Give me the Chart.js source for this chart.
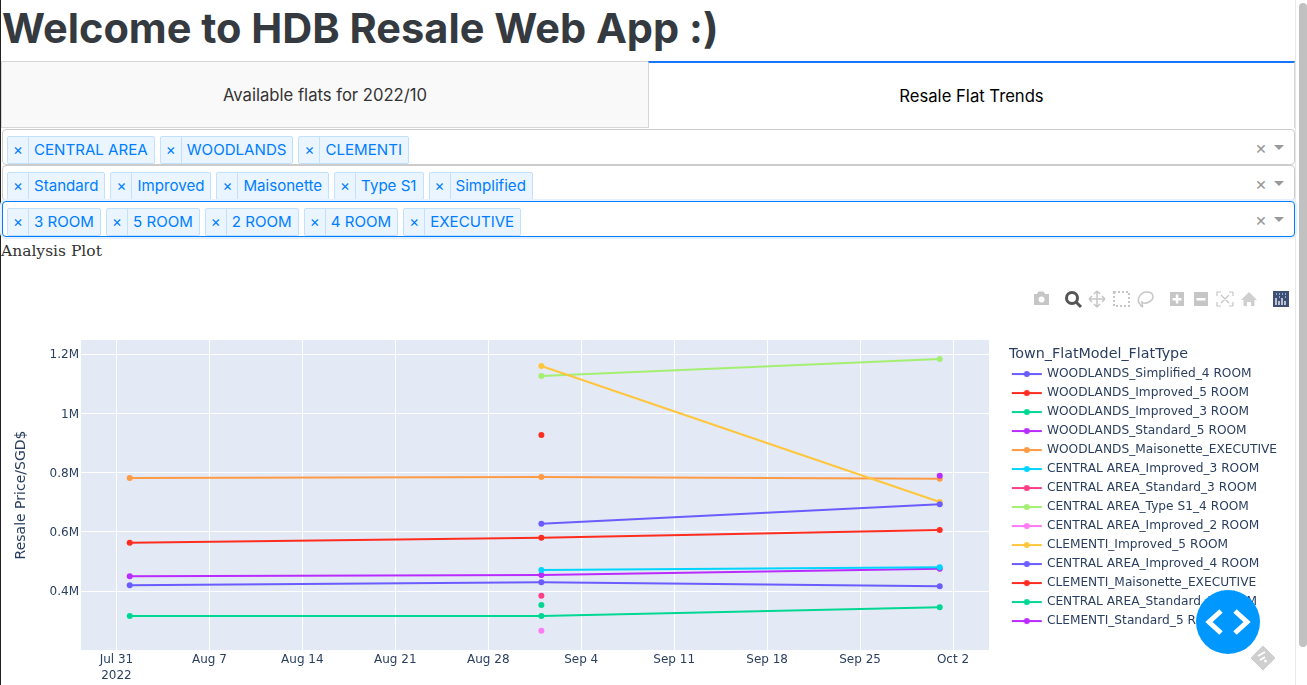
<!DOCTYPE html>
<html>
<head>
<meta charset="utf-8">
<title>HDB Resale Web App</title>
<script src="https://cdn.jsdelivr.net/npm/chart.js@4"></script>
<style>
html,body{margin:0;padding:0;width:1307px;height:685px;overflow:hidden;background:#fff;font-family:Inter,"Noto Sans",sans-serif}
.abs{position:absolute}
#edge{left:0;top:0;width:1px;height:685px;background:#222}
h1{position:absolute;left:2px;top:3px;margin:0;font:700 41.5px/50px Inter,sans-serif;color:#343a40;white-space:nowrap}
.tab{position:absolute;top:61px;height:67px;box-sizing:border-box;display:flex;align-items:center;justify-content:center;font-size:16.65px}
#tab1{left:1px;width:648px;background:#f9f9f9;border:1px solid #d6d6d6;color:#333}
#tab2{left:648px;width:647px;background:#fff;border-top:2px solid #1975fa;border-right:1px solid #d6d6d6;border-left:1px solid #d6d6d6;color:#000}
.sel{position:absolute;left:2px;width:1293px;height:36px;box-sizing:border-box;border:1px solid #ccc;border-radius:4px;background:#fff;display:flex;align-items:center;padding-left:4px;padding-top:6px}
.sel.focus{border-color:#007eff;box-shadow:0 0 0 2px #e6f1ff;z-index:2}
.tag{display:flex;height:28px;box-sizing:border-box;border:1px solid #c2e0ff;border-radius:2px;background:#ebf5ff;color:#007eff;font-size:15.1px;line-height:26px;margin-right:5px;white-space:nowrap}
.tag i{font-style:normal;width:20px;text-align:center;border-right:1px solid #c2e0ff}
.tag b{font-weight:400;padding:0 6px 0 5px}
.clr{position:absolute;right:27px;top:7px;color:#999;font-size:18px;line-height:22px}
.arr{position:absolute;right:10px;top:15px;width:0;height:0;border:5px solid transparent;border-top-color:#999;border-bottom:0}
#lab{left:1px;top:242px;font:15.5px/19px "DejaVu Serif",serif;color:#333;white-space:nowrap}
#wrap{left:0;top:280px;width:1295px;height:405px}
#sb{left:1295px;top:0;width:12px;height:685px;background:#fff;border-left:1px solid #e8e8e8;box-sizing:border-box}
#th{left:1299px;top:3px;width:8px;height:644px;border-radius:4px;background:#c1c1c1}
#fab{left:1196px;top:590px;width:64px;height:64px;border-radius:50%;background:#0098ff;z-index:5}
#fb{left:1250px;top:645px;z-index:5}
#mb{left:1025px;top:285px}
</style>
</head>
<body>
<div id="edge" class="abs"></div>
<h1>Welcome to HDB Resale Web App :)</h1>
<div id="tab1" class="tab">Available flats for 2022/10</div>
<div id="tab2" class="tab">Resale Flat Trends</div>
<div class="sel" style="top:129px" id="s1"></div>
<div class="sel" style="top:165px" id="s2"></div>
<div class="sel focus" style="top:201px" id="s3"></div>
<div id="lab" class="abs">Analysis Plot</div>

<svg id="mb" class="abs" width="270" height="30" viewBox="0 0 270 30" style="z-index:3">
  <g fill="#c6c6c6">
    <path d="M9 9h3l1.5-2.500h5L20 9h4v11H9z"/><circle cx="16.500" cy="14.500" r="3" fill="#fff"/>
    <rect x="145" y="7" width="14" height="14"/><rect x="169" y="7" width="14" height="14"/>
    <path d="M216 15l8-8 8 8h-2.500v6h-3.500v-4h-4v4h-3.500v-6z" fill="#cfcfcf"/>
  </g>
  <rect x="147.500" y="13" width="9" height="2.500" fill="#fff"/><rect x="150.800" y="9.500" width="2.500" height="9" fill="#fff"/>
  <rect x="171.500" y="13" width="9" height="2.500" fill="#fff"/>
  <circle cx="47" cy="13" r="5.500" fill="none" stroke="#555" stroke-width="3"/>
  <path d="M51 17l5 5" stroke="#555" stroke-width="3"/>
  <path d="M72 6v16M64 14h16M72 6l-3 3M72 6l3 3M72 22l-3-3M72 22l3-3M64 14l3-3M64 14l3 3M80 14l-3-3M80 14l-3 3" stroke="#c6c6c6" stroke-width="1.500" fill="none"/>
  <rect x="89" y="7" width="15" height="14" fill="none" stroke="#c6c6c6" stroke-width="2" stroke-dasharray="2 2"/>
  <path d="M115 19c-4-4 0-12 7-12s8 7 2 10c-3 1.500-6 1-7 0 0 2 0 4 1 5-2-1-3-2-3-3z" fill="none" stroke="#c6c6c6" stroke-width="1.500"/>
  <path d="M192 11V7h4M208 7h-4M208 7v4M192 17v4h4M208 21h-4M208 21v-4M196 10l8 8M204 10l-8 8" fill="none" stroke="#c6c6c6" stroke-width="1.200"/>
  <rect x="248" y="6" width="16" height="16" fill="#3f4f75"/>
  <path d="M251 13v7M254 16v4M257 13v7M260 16v4" stroke="#fff" stroke-width="1.300"/>
  <path d="M251 9h1M254 9h1M257 9h1M260 9h1M254 12h1M260 12h1" stroke="#9fd8e8" stroke-width="1.300"/>
</svg>

<div id="wrap" class="abs"><canvas id="chart" width="1295" height="405"></canvas></div>

<div id="sb" class="abs"></div><div id="th" class="abs"></div>
<div id="fab" class="abs">
  <svg width="64" height="64" viewBox="0 0 64 64"><path d="M25 21L13 32l12 11M39 21l12 11-12 11" fill="none" stroke="#fff" stroke-width="5"/></svg>
</div>
<svg id="fb" class="abs" width="26" height="26" viewBox="0 0 26 26"><path d="M13 1l12 12-12 12L1 13z" fill="#cfcfcf" stroke="#cfcfcf" stroke-width="1" stroke-linejoin="round"/><path d="M8 11l7-4M10 15l5-3" stroke="#fff" stroke-width="2"/><circle cx="15.500" cy="16" r="1.500" fill="#fff"/></svg>

<script>
// ---------- data ----------
const towns = ["CENTRAL AREA", "WOODLANDS", "CLEMENTI"];
const flatModels = ["Standard", "Improved", "Maisonette", "Type S1", "Simplified"];
const flatTypes = ["3 ROOM", "5 ROOM", "2 ROOM", "4 ROOM", "EXECUTIVE"];

const months = ["2022-08-01", "2022-09-01", "2022-10-01"];

const woodlandsSimplified4 = [419200, 429300, 415800];
const woodlandsImproved5 = [563400, 580300, 606200];
const woodlandsImproved3 = [315500, 315500, 344800];
const woodlandsStandard5 = [449600, 454100, 475500];
const woodlandsMaisonetteExec = [782000, 785400, 779700];
const centralImproved3 = [null, 471000, 480000];
const centralStandard3 = [null, 384200, null];
const centralTypeS14 = [null, 1126800, 1184200];
const centralImproved2 = [null, 265900, null];
const clementiImproved5 = [null, 1160600, 700800];
const centralImproved4 = [null, 627600, 693000];
const clementiMaisonetteExec = [null, 927300, null];
const centralStandard2 = [null, 352700, null];
const clementiStandard5 = [null, null, 789900];

const seriesNames = [
  "WOODLANDS_Simplified_4 ROOM", "WOODLANDS_Improved_5 ROOM", "WOODLANDS_Improved_3 ROOM",
  "WOODLANDS_Standard_5 ROOM", "WOODLANDS_Maisonette_EXECUTIVE", "CENTRAL AREA_Improved_3 ROOM",
  "CENTRAL AREA_Standard_3 ROOM", "CENTRAL AREA_Type S1_4 ROOM", "CENTRAL AREA_Improved_2 ROOM",
  "CLEMENTI_Improved_5 ROOM", "CENTRAL AREA_Improved_4 ROOM", "CLEMENTI_Maisonette_EXECUTIVE",
  "CENTRAL AREA_Standard_2 ROOM", "CLEMENTI_Standard_5 ROOM"
];
const seriesValues = [
  woodlandsSimplified4, woodlandsImproved5, woodlandsImproved3, woodlandsStandard5,
  woodlandsMaisonetteExec, centralImproved3, centralStandard3, centralTypeS14, centralImproved2,
  clementiImproved5, centralImproved4, clementiMaisonetteExec, centralStandard2, clementiStandard5
];
const palette = ["#6a5cff", "#ff2d20", "#00d793", "#b92cff", "#ff9a45", "#00d4ff", "#ff3d85",
                 "#a4ef72", "#ff7af5", "#ffc63d"];

const xTickDates = ["2022-07-31", "2022-08-07", "2022-08-14", "2022-08-21", "2022-08-28",
                    "2022-09-04", "2022-09-11", "2022-09-18", "2022-09-25", "2022-10-02"];
const xTickLabels = [["Jul 31", "2022"], "Aug 7", "Aug 14", "Aug 21", "Aug 28",
                     "Sep 4", "Sep 11", "Sep 18", "Sep 25", "Oct 2"];
const yTickValues = [400000, 600000, 800000, 1000000, 1200000];
const yTickLabels = ["0.4M", "0.6M", "0.8M", "1M", "1.2M"];

// ---------- page furniture ----------
function fillSelect(id, items) {
  const el = document.getElementById(id);
  items.forEach(t => {
    const d = document.createElement("div");
    d.className = "tag";
    const i = document.createElement("i"); i.textContent = "×";
    const b = document.createElement("b"); b.textContent = t;
    d.append(i, b); el.append(d);
  });
  const c = document.createElement("span"); c.className = "clr"; c.textContent = "×";
  const a = document.createElement("span"); a.className = "arr";
  el.append(c, a);
}
fillSelect("s1", towns); fillSelect("s2", flatModels); fillSelect("s3", flatTypes);

// ---------- chart ----------
const chartFont = "'DejaVu Sans'";
const toDay = s => Date.parse(s + "T00:00:00Z") / 86400000;
const tickText = new Map(xTickDates.map((d, i) => [toDay(d), xTickLabels[i]]));
const yText = new Map(yTickValues.map((v, i) => [v, yTickLabels[i]]));
const inkColor = "#2a3f5f";
const plotBg = "#e3eaf5";

function legendSample(color) {
  const c = document.createElement("canvas");
  c.width = 37; c.height = 10;
  const g = c.getContext("2d");
  g.strokeStyle = color; g.lineWidth = 2;
  g.beginPath(); g.moveTo(2, 5); g.lineTo(32, 5); g.stroke();
  g.fillStyle = color;
  g.beginPath(); g.arc(17, 5, 3, 0, Math.PI * 2); g.fill();
  return c;
}

const datasets = seriesNames.map((name, i) => {
  const color = palette[i % palette.length];
  return {
    label: name,
    data: months.map((m, k) => ({ x: toDay(m), y: seriesValues[i][k] })),
    borderColor: color, backgroundColor: color,
    borderWidth: 2, pointRadius: 3, pointBorderWidth: 0, pointHoverRadius: 3,
    tension: 0, order: seriesNames.length - i
  };
});

const plotBackground = {
  id: "plotBackground",
  beforeDraw(chart) {
    const { ctx, chartArea: a } = chart;
    ctx.save(); ctx.fillStyle = plotBg;
    ctx.fillRect(a.left, a.top, a.width, a.height); ctx.restore();
  }
};
const legendPlacement = {
  id: "legendPlacement",
  beforeLayout(chart) {
    const l = chart.legend;
    if (l && !l.__fixed) {
      const fit = l.fit.bind(l);
      l.fit = () => { fit(); l.width = 306; };
      l.__fixed = true;
    }
  },
  afterLayout(chart) {
    const l = chart.legend;
    l.left += 20; l.right += 20;
  }
};

new Chart(document.getElementById("chart"), {
  type: "line",
  data: { datasets },
  plugins: [plotBackground, legendPlacement],
  options: {
    responsive: false, animation: false, parsing: true,
    layout: { padding: { top: 60, right: 0, bottom: 0, left: 0 } },
    interaction: { mode: "nearest", intersect: true },
    scales: {
      x: {
        type: "linear", min: toDay("2022-07-28") + 0.33, max: toDay("2022-10-04") + 0.71,
        afterBuildTicks(s) { s.ticks = xTickDates.map(d => ({ value: toDay(d) })); },
        afterFit(s) { s.height = 35; },
        grid: { color: "#ffffff", lineWidth: 1, drawTicks: false },
        border: { display: false },
        ticks: {
          autoSkip: false, maxRotation: 0, minRotation: 0, padding: 2,
          color: inkColor, font: { family: chartFont, size: 12, lineHeight: 1.3 },
          callback: v => tickText.get(v)
        }
      },
      y: {
        type: "linear", min: 200600, max: 1248500,
        afterBuildTicks(s) { s.ticks = yTickValues.map(v => ({ value: v })); },
        afterFit(s) { s.width = 81; },
        grid: { color: "#ffffff", lineWidth: 1, drawTicks: false },
        border: { display: false },
        title: {
          display: true, text: "Resale Price/SGD$", color: inkColor,
          font: { family: chartFont, size: 14 }, padding: { top: 13, bottom: 0 }
        },
        ticks: {
          padding: 2, labelOffset: 1, color: inkColor, font: { family: chartFont, size: 12 },
          callback: v => yText.get(v)
        }
      }
    },
    plugins: {
      tooltip: { enabled: false },
      legend: {
        position: "right", align: "start", reverse: false,
        title: {
          display: true, text: "Town_FlatModel_FlatType", position: "start", color: inkColor,
          font: { family: chartFont, size: 14.3 }, padding: { top: 7, bottom: -3 }
        },
        labels: {
          usePointStyle: true, pointStyleWidth: 25, padding: 6.8, color: inkColor,
          font: { family: chartFont, size: 12.2 },
          generateLabels(chart) {
            return chart.data.datasets.map((d, i) => ({
              text: d.label, datasetIndex: i, fontColor: inkColor,
              fillStyle: d.borderColor, strokeStyle: d.borderColor,
              pointStyle: legendSample(d.borderColor), lineWidth: 0, hidden: false
            }));
          }
        }
      }
    }
  }
});
</script>
</body>
</html>
